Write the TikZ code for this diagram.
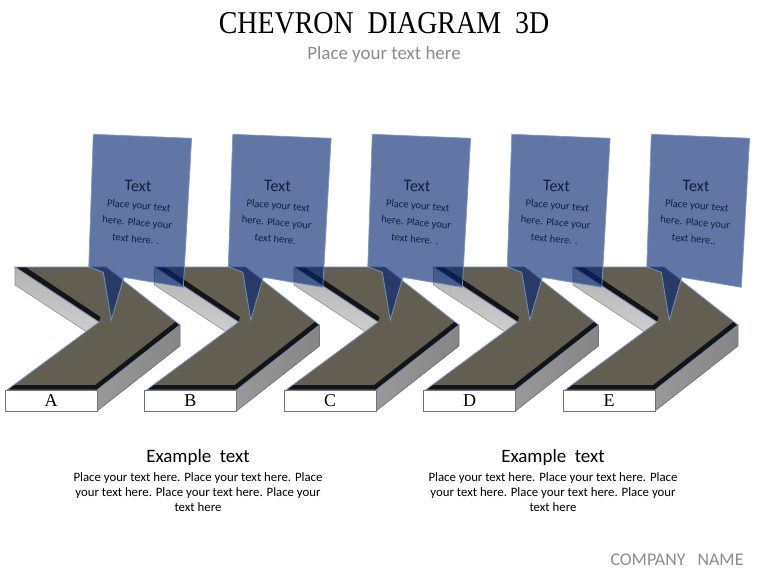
\documentclass[tikz,border=0pt]{standalone}
\usepackage{fontspec}
\setmainfont{Liberation Serif}
\newfontfamily\carl{Carlito}
\usetikzlibrary{calc}
\definecolor{topface}{RGB}{98,94,82}
\definecolor{calfill}{RGB}{6,39,114}
\definecolor{caltext}{RGB}{20,30,62}
\definecolor{edgeblue}{RGB}{125,150,195}
\definecolor{subgray}{RGB}{140,140,140}
\tikzset{
  topsurf/.style={fill=topface},
  upside/.style={top color=black!30,bottom color=black!18},
  rightside/.style={left color=black!40,right color=black!48},
  frontbox/.style={fill=white,draw=black!55,line width=0.6pt},
  bevelband/.style={fill=black!92},
  rim/.style={draw=edgeblue,line width=0.6pt},
  callout/.style={fill=calfill,fill opacity=0.63,draw=edgeblue,draw opacity=0.9,line width=0.6pt},
  lettertext/.style={font=\fontsize{13.5}{14}\selectfont},
  caltitle/.style={font=\carl\fontsize{12.2}{13}\selectfont,text=caltext,inner sep=0},
  calbody/.style={font=\carl\fontsize{7.9}{12.6}\selectfont,text=caltext,align=center,inner sep=0},
  bodytext/.style={font=\carl\fontsize{9.6}{11.25}\selectfont,align=center,inner sep=0},
  headtext/.style={font=\carl\fontsize{14.2}{16}\selectfont,inner sep=0},
}
\begin{document}
\begin{tikzpicture}[x=0.75pt,y=-0.75pt]
\useasboundingbox (0,0) rectangle (768,576);
\fill[white] (0,0) rectangle (768,576);

% title
\node[anchor=base,font=\fontsize{23.8}{26}\selectfont,inner sep=0] (title) at (384,33) {\scalebox{0.88}[1]{CHEVRON\ \ DIAGRAM\ \ 3D}};
\node[anchor=base,headtext,text=subgray] (subtitle) at (384,59) {Place your text here};

% chevrons
\foreach \i/\lab in {0/A,1/B,2/C,3/D,4/E}{
  \pgfmathsetmacro\ox{139.5*\i}
  \coordinate (TL\i) at ({\ox+15},267);
  \coordinate (TR\i) at ({\ox+106},267);
  \coordinate (TP\i) at ({\ox+180},325);
  \coordinate (BR\i) at ({\ox+97},390);
  \coordinate (BL\i) at ({\ox+7},390);
  \coordinate (NT\i) at ({\ox+99},322);
  % upper arm visible side
  \shade[upside] (TL\i) -- (NT\i) -- ($(NT\i)+(0,18)$) -- ($(TL\i)+(0,18)$) -- cycle;
  \draw[black!45,line width=0.4pt] (TL\i) -- ($(TL\i)+(0,18)$) -- ($(NT\i)+(0,18)$);
  % right side of lower arm
  \shade[rightside] (BR\i) -- (TP\i) -- ($(TP\i)+(0,21)$) -- ($(BR\i)+(0,21)$) -- cycle;
  \draw[black!55,line width=0.5pt] (BR\i) -- (TP\i) -- ($(TP\i)+(0,21)$) -- ($(BR\i)+(0,21)$) -- cycle;
  % front face
  \draw[frontbox] ($(BL\i)+(-2,0)$) rectangle ($(BR\i)+(0,21)$);
  \node[lettertext] (lab\i) at ($($(BL\i)+(-2,0)$)!0.5!($(BR\i)+(0,21)$)$) {\lab};
  % top face
  \fill[topsurf] (TL\i) -- (TR\i) -- (TP\i) -- (BR\i) -- (BL\i) -- (NT\i) -- cycle;
  \begin{scope}
    \clip (TL\i) -- (TR\i) -- (TP\i) -- (BR\i) -- (BL\i) -- (NT\i) -- cycle;
    % band along inner edge of upper arm
    \fill[bevelband] (TL\i) -- (NT\i) -- ($(NT\i)+(1.5,-5)$) -- ($(TL\i)+(3,-5)$) -- cycle;
    % band along bottom and lower outer edge
    \fill[bevelband] ($(BL\i)+(-5,0)$) -- (BR\i) -- (TP\i) -- ($(TP\i)+(-4,-3.5)$) -- ($(BR\i)+(-1.8,-5)$) -- ($(BL\i)+(0,-5)$) -- cycle;
  \end{scope}
  \draw[rim] (TL\i) -- (TR\i) -- (TP\i) -- (BR\i) -- (BL\i) -- (NT\i) -- cycle;
}

% callouts
\foreach \i/\ending in {0/{text here. .},1/{text here.},2/{text here. .},3/{text here. .},4/{text here..}}{
  \pgfmathsetmacro\cx{93.3+139.5*\i}
  \coordinate (C\i) at (\cx,134.3);
  \draw[callout] (C\i) -- ++(98.3,4) -- ($(C\i)+(90,153)$) -- ($(C\i)+(30.5,143)$)
     -- ($(C\i)+(18,185.7)$) -- ($(C\i)+(10,138)$) -- ($(C\i)+(-4.5,132.4)$) -- cycle;
  \node[caltitle,anchor=base,rotate=-2] (ct\i) at ($(C\i)+(44.5,57)$) {Text};
  \node[calbody,rotate=-5] (cb\i) at ($(C\i)+(44,88)$) {Place your text\\here. Place your\\\ending};
}

% bottom texts (anchor base = last line)
\node[anchor=base,headtext] (ex1) at (198,462.7) {Example\ \ text};
\node[anchor=base,bodytext] (tx1) at (198,511) {Place your text here. Place your text here. Place\\your text here. Place your text here. Place your\\text here};
\node[anchor=base,headtext] (ex2) at (553,462.7) {Example\ \ text};
\node[anchor=base,bodytext] (tx2) at (553,511) {Place your text here. Place your text here. Place\\your text here. Place your text here. Place your\\text here};
\node[anchor=base,font=\carl\fontsize{13.4}{15}\selectfont,text=subgray,inner sep=0] (company) at (677,565) {COMPANY\ \ \ NAME};
\end{tikzpicture}
\end{document}
